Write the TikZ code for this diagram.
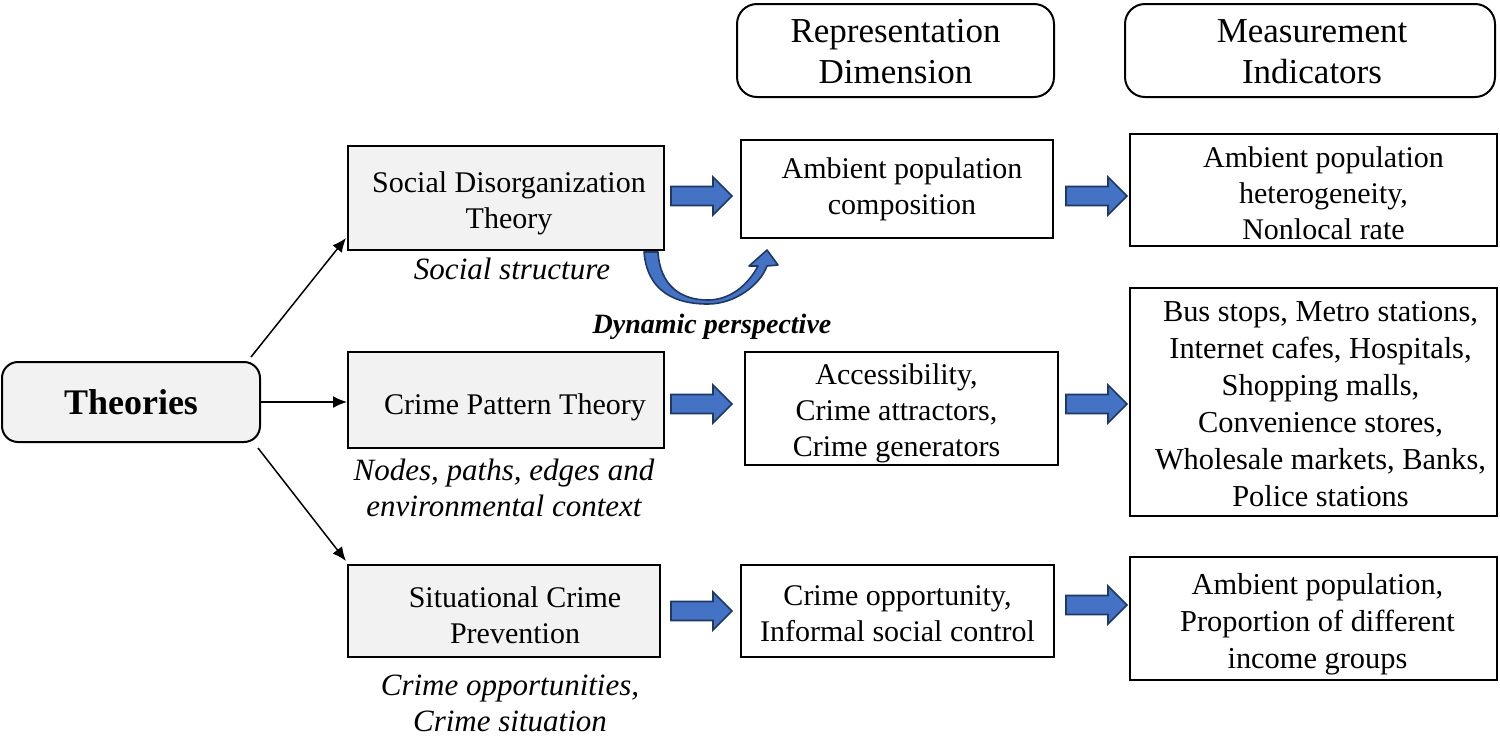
\documentclass[tikz,border=0pt]{standalone}
\usepackage{fontspec}
\setmainfont{Liberation Serif}
\usetikzlibrary{calc,arrows.meta}
\definecolor{boxgray}{HTML}{F2F2F2}
\definecolor{arrowblue}{HTML}{4472C4}
\definecolor{arrowedge}{HTML}{1F3864}
\begin{document}
\begin{tikzpicture}[x=0.5pt,y=-0.5pt,
  theorybox/.style={draw=black,line width=1pt,fill=boxgray,inner sep=0pt},
  plainbox/.style={draw=black,line width=1pt,fill=white,inner sep=0pt},
  headbox/.style={draw=black,line width=1pt,rounded corners=10pt,inner sep=0pt},
  boxtext/.style={align=center,inner sep=0pt,font=\fontsize{15}{18}\selectfont},
  listtext/.style={align=center,inner sep=0pt,font=\fontsize{15.2}{18.5}\selectfont},
  headtext/.style={align=center,inner sep=0pt,font=\fontsize{17.5}{20.5}\selectfont},
  caption/.style={align=center,inner sep=0pt,font=\fontsize{15.5}{18}\selectfont\itshape},
  thinarrow/.style={line width=0.75pt,-{Latex[length=7pt,width=6pt]}},
  barrow/.style={fill=arrowblue,draw=arrowedge,line width=0.8pt,line join=miter}
]
\useasboundingbox (0,0) rectangle (1500,736);

% Theories
\node[theorybox,rounded corners=8pt,minimum width=129pt,minimum height=40pt,font=\fontsize{18}{21}\selectfont\bfseries] (theo) at (131,402) {Theories};

% Theory boxes
\node[theorybox,minimum width=158pt,minimum height=52pt] (sdt) at (506,198) {};
\node[boxtext] (sdt-t) at ($(sdt.center)+(3,5)$) {Social Disorganization\\Theory};
\node[theorybox,minimum width=158pt,minimum height=48pt] (cpt) at (506,400) {};
\node[boxtext] (cpt-t) at ($(cpt.center)+(9,7)$) {Crime Pattern Theory};
\node[theorybox,minimum width=156pt,minimum height=46pt] (scp) at (504,611) {};
\node[boxtext] (scp-t) at ($(scp.center)+(11,4.5)$) {Situational Crime\\Prevention};

\node[caption] (cap1) at (512,269) {Social structure};
\node[caption] (cap2) at (504,488) {Nodes, paths, edges and\\environmental context};
\node[caption] (cap3) at (510,703) {Crime opportunities,\\Crime situation};

% Headers
\node[headbox,minimum width=158.5pt,minimum height=46.5pt] (hrep) at (895.5,50.5) {};
\node[headtext] (hrep-t) at ($(hrep.center)+(0,1)$) {Representation\\Dimension};
\node[headbox,minimum width=185pt,minimum height=46.5pt] (hmea) at (1310,50.5) {};
\node[headtext] (hmea-t) at ($(hmea.center)+(2,1)$) {Measurement\\Indicators};

% Representation boxes
\node[plainbox,minimum width=156pt,minimum height=49pt] (r1) at (897,189) {};
\node[boxtext] (r1-t) at ($(r1.center)+(5,0)$) {Ambient population\\composition};
\node[plainbox,minimum width=156.5pt,minimum height=56.5pt] (r2) at (901.5,408.5) {};
\node[boxtext] (r2-t) at ($(r2.center)+(-5,5)$) {Accessibility,\\Crime attractors,\\Crime generators};
\node[plainbox,minimum width=156.5pt,minimum height=46pt] (r3) at (897.5,611) {};
\node[boxtext] (r3-t) at ($(r3.center)+(0,3)$) {Crime opportunity,\\Informal social control};

% Measurement boxes
\node[plainbox,minimum width=183.5pt,minimum height=56pt] (m1) at (1313.5,190) {};
\node[boxtext] (m1-t) at ($(m1.center)+(10,3)$) {Ambient population\\heterogeneity,\\Nonlocal rate};
\node[plainbox,minimum width=183.5pt,minimum height=114pt] (m2) at (1313.5,402) {};
\node[listtext] (m2-t) at ($(m2.center)+(7,2.5)$) {Bus stops, Metro stations,\\Internet cafes, Hospitals,\\Shopping malls,\\Convenience stores,\\Wholesale markets, Banks,\\Police stations};
\node[plainbox,minimum width=183.5pt,minimum height=61.5pt] (m3) at (1313.5,618.5) {};
\node[listtext] (m3-t) at ($(m3.center)+(4,6)$) {Ambient population,\\Proportion of different\\income groups};

% Thin arrows from Theories
\draw[thinarrow] ($(theo.north east)+(-10,-4)$) -- ($(sdt.south west)+(-1,-13)$);
\draw[thinarrow] (theo.east) -- (theo.east -| cpt.west);
\draw[thinarrow] ($(theo.south east)+(-3,5)$) -- ($(scp.north west)+(-1,-3)$);

% Block arrows
\newcommand\blockarr[1]{%
  \draw[barrow] ($#1+(0,-9.5)$) -- ++(42,0) -- ++(0,-9.5) -- ++(19,19) -- ++(-19,19) -- ++(0,-9.5) -- ++(-42,0) -- cycle;}
\blockarr{(sdt.east)+(6,-2)}
\blockarr{(r1.east)+(12,7)}
\blockarr{(cpt.east)+(6,4)}
\blockarr{(r2.east)+(7,-4.5)}
\blockarr{(scp.east)+(10,0)}
\blockarr{(r3.east)+(11,-6)}

% Curved block arrow
\coordinate (cs) at ($(sdt.south east)+(-21,1)$);
\draw[barrow,line join=round] (cs) .. controls ++(4,48) and (688,304) .. (708,304)
  .. controls (735,304) and (760,285) .. (767,266)
  -- (778,265) -- (767,250) -- (749,266) -- (758,266)
  .. controls (748,285) and (730,300) .. (708,300)
  .. controls (680,300) and (660,285) .. ($(cs)+(14,0)$) -- cycle;

\node[inner sep=0pt,font=\fontsize{14}{17}\selectfont\bfseries\itshape] (dyn) at (712,327) {Dynamic perspective};
\end{tikzpicture}
\end{document}
